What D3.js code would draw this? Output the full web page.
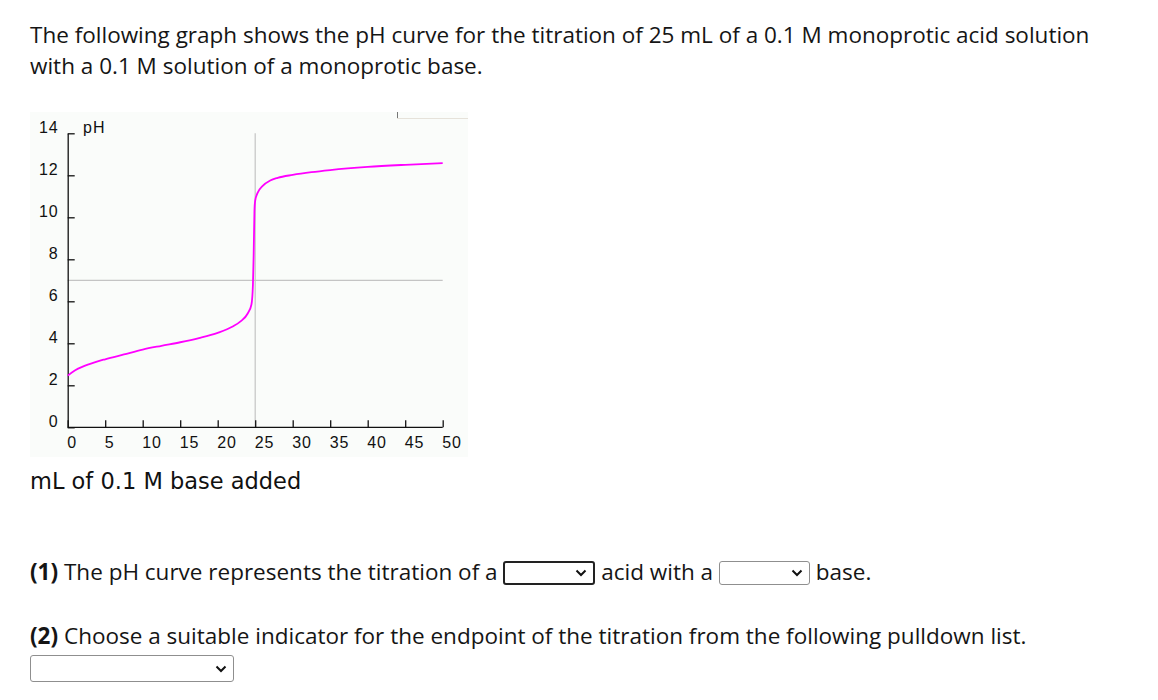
<!DOCTYPE html>
<html lang="en">
<head>
    <meta charset="UTF-8">
    <title>pH titration curve</title>
    <script src="https://cdn.jsdelivr.net/npm/d3@7"></script>
    <style>
        body {
            margin: 0;
            background: #fff;
            font-family: "Open Sans", sans-serif;
            color: #151515;
        }

        #chart {
            position: absolute;
            left: 0;
            top: 0;
        }

        .intro {
            position: absolute;
            left: 30px;
            top: 19px;
            width: 1110px;
            font-size: 22.5px;
            line-height: 31px;
        }

        .xlabel {
            position: absolute;
            left: 30px;
            top: 468px;
            font-family: "DejaVu Sans", sans-serif;
            font-size: 22.5px;
            color: #111;
        }

        .q {
            position: absolute;
            left: 30px;
            font-size: 22.5px;
            line-height: 30px;
            white-space: nowrap;
        }

        .q b {
            font-weight: 700;
        }

        .pick {
            display: inline-block;
            position: relative;
            vertical-align: -5px;
            box-sizing: border-box;
            border: 1px solid #8f8f8f;
            border-radius: 3px;
            background: #fff;
        }

        .pick.focus {
            border: 2px solid #222;
        }

        .pick svg {
            position: absolute;
            right: 6px;
            top: 50%;
            margin-top: -4px;
        }

        .axis text {
            font-family: "Liberation Sans", sans-serif;
            font-size: 16px;
            letter-spacing: 1px;
            fill: #111;
        }

        .axis path, .axis line {
            stroke: #111;
            stroke-width: 1.3;
        }
    </style>
</head>
<body>
<svg id="chart" width="1158" height="700"></svg>

<div class="intro">The following graph shows the pH curve for the titration of 25 mL of a 0.1 M monoprotic acid solution with a 0.1 M solution of a monoprotic base.</div>
<div class="xlabel">mL of 0.1 M base added</div>

<div class="q" style="top:557px"><b>(1)</b> The pH curve represents the titration of a <span class="pick focus" style="width:92px;height:24px"></span> acid with a <span class="pick" style="width:91px;height:24px"></span> base.</div>
<div class="q" style="top:621px"><b>(2)</b> Choose a suitable indicator for the endpoint of the titration from the following pulldown list.</div>
<div class="q" style="top:655px"><span class="pick" style="display:block;width:204px;height:27px"></span></div>

<script>
    // titration data
    const volumeAdded = [0, 1, 2, 3, 4, 5, 7.5, 10, 12.5, 15, 17.5, 20, 22, 23, 24, 24.5, 24.7, 24.8, 24.9, 25, 25.3, 26, 27, 28, 30, 32.5, 35, 40, 45, 50];
    const pHValues = [2.46, 2.72, 2.89, 3.02, 3.14, 3.24, 3.47, 3.70, 3.88, 4.05, 4.25, 4.50, 4.80, 5.03, 5.42, 5.85, 6.8, 8.3, 10.3, 10.8, 11.15, 11.5, 11.75, 11.88, 12.02, 12.15, 12.25, 12.40, 12.50, 12.58];
    const xTicks = [0, 5, 10, 15, 20, 25, 30, 35, 40, 45, 50];
    const yTicks = [0, 2, 4, 6, 8, 10, 12, 14];
    const equivVolume = 25;
    const neutralPH = 7;

    const svg = d3.select("#chart");

    // chart image panel
    svg.append("rect")
        .attr("x", 30).attr("y", 112)
        .attr("width", 438).attr("height", 345)
        .attr("fill", "#fafcfa");

    // small leftover marks at the top right of the image
    svg.append("line")
        .attr("x1", 397).attr("x2", 468).attr("y1", 118.5).attr("y2", 118.5)
        .attr("stroke", "#e6e2da");
    svg.append("line")
        .attr("x1", 397.5).attr("x2", 397.5).attr("y1", 112).attr("y2", 118)
        .attr("stroke", "#777");

    const x = d3.scaleLinear().domain([0, 50]).range([67.7, 442.7]);
    const y = d3.scaleLinear().domain([0, 14]).range([427.3, 133.3]);

    // guide lines
    svg.append("line")
        .attr("x1", x(equivVolume)).attr("x2", x(equivVolume))
        .attr("y1", y(0)).attr("y2", y(14))
        .attr("stroke", "#c4c4c4").attr("stroke-width", 1.2);
    svg.append("line")
        .attr("x1", x(0)).attr("x2", x(50))
        .attr("y1", y(neutralPH)).attr("y2", y(neutralPH))
        .attr("stroke", "#c4c4c4").attr("stroke-width", 1.2);

    // x axis, ticks pointing up, labels start at the tick
    const gx = svg.append("g")
        .attr("class", "axis")
        .attr("transform", `translate(0,${y(0)})`)
        .call(d3.axisBottom(x).tickValues(xTicks).tickSizeInner(-7).tickSizeOuter(0).tickPadding(0));
    gx.selectAll("text")
        .attr("text-anchor", "start")
        .attr("dx", -1)
        .attr("y", 9)
        .attr("dy", "0.71em");
    gx.select(".domain").attr("d", `M${x(0)},0H${x(50)}`);

    // y axis, ticks pointing right, labels raised a little
    const gy = svg.append("g")
        .attr("class", "axis")
        .attr("transform", `translate(${x(0)},0)`)
        .call(d3.axisLeft(y).tickValues(yTicks).tickSizeInner(-7).tickSizeOuter(0).tickPadding(9));
    gy.selectAll("text").attr("dy", "-0.05em");

    svg.append("text")
        .attr("x", 83).attr("y", 133)
        .attr("font-family", "Liberation Sans, sans-serif")
        .attr("font-size", 16)
        .attr("letter-spacing", 1)
        .attr("fill", "#111")
        .text("pH");

    // pH curve
    const points = volumeAdded.map((v, i) => [v, pHValues[i]]);
    svg.append("path")
        .datum(points)
        .attr("fill", "none")
        .attr("stroke", "#ff00ff")
        .attr("stroke-width", 1.8)
        .attr("d", d3.line().x(d => x(d[0])).y(d => y(d[1])).curve(d3.curveMonotoneX));

    // chevrons in the pulldown boxes
    d3.selectAll(".pick").append("svg")
        .attr("width", 12).attr("height", 8)
        .append("path")
        .attr("d", "M1.5,1.5L6,6L10.5,1.5")
        .attr("fill", "none")
        .attr("stroke", "#111")
        .attr("stroke-width", 2);
</script>
</body>
</html>
